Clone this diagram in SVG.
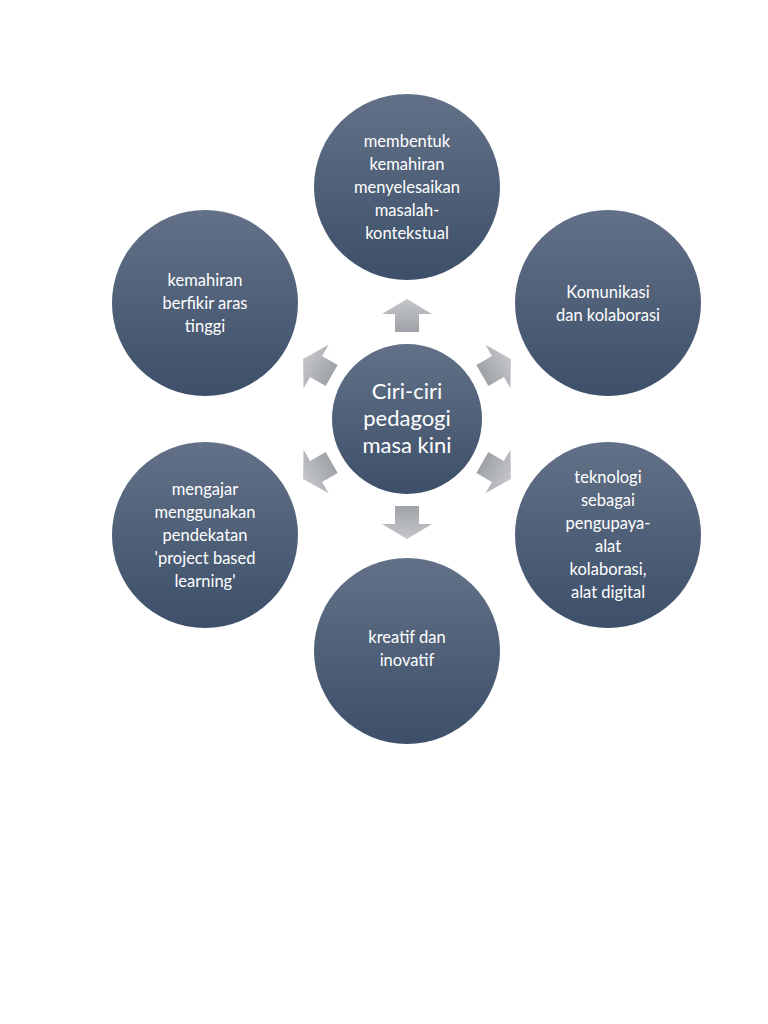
<svg xmlns="http://www.w3.org/2000/svg" width="768" height="1024" viewBox="0 0 768 1024">
<defs>
<linearGradient id="cg" x1="0" y1="0" x2="0" y2="1"><stop offset="0" stop-color="#627187"/><stop offset="1" stop-color="#3d4f69"/></linearGradient>
<linearGradient id="ag" x1="0" y1="0" x2="0" y2="1"><stop offset="0" stop-color="#c4c6ca"/><stop offset="1" stop-color="#9fa2a7"/></linearGradient>
<polygon id="arr" points="0,-17 25,-2 12,-2 12,16 -12,16 -12,-2 -25,-2" fill="url(#ag)"/>
</defs>
<style>
circle{fill:url(#cg)}
text{font-family:Lato,"Open Sans",sans-serif;fill:#fff;text-anchor:middle;font-size:16.5px}
.c{font-size:22px}
</style>
<rect width="768" height="1024" fill="#fff"/>
<g id="connectors">
<use href="#arr" transform="translate(407,419) rotate(0) translate(0,-103)"/>
<use href="#arr" transform="translate(407,419) rotate(60) translate(0,-103)"/>
<use href="#arr" transform="translate(407,419) rotate(120) translate(0,-103)"/>
<use href="#arr" transform="translate(407,419) rotate(180) translate(0,-103)"/>
<use href="#arr" transform="translate(407,419) rotate(240) translate(0,-103)"/>
<use href="#arr" transform="translate(407,419) rotate(300) translate(0,-103)"/>
</g>
<g id="center"><circle cx="407" cy="419" r="75"/>
<text class="c" x="407" y="399">Ciri-ciri</text><text class="c" x="407" y="426">pedagogi</text><text class="c" x="407" y="453">masa kini</text></g>
<g id="n1"><circle cx="407" cy="187" r="93"/>
<text x="407" y="147">membentuk</text><text x="407" y="170">kemahiran</text><text x="407" y="193">menyelesaikan</text><text x="407" y="216">masalah-</text><text x="407" y="239">kontekstual</text></g>
<g id="n2"><circle cx="608" cy="303" r="93"/>
<text x="608" y="298">Komunikasi</text><text x="608" y="321">dan kolaborasi</text></g>
<g id="n3"><circle cx="608" cy="535" r="93"/>
<text x="608" y="483">teknologi</text><text x="608" y="506">sebagai</text><text x="608" y="529">pengupaya-</text><text x="608" y="552">alat</text><text x="608" y="575">kolaborasi,</text><text x="608" y="598">alat digital</text></g>
<g id="n4"><circle cx="407" cy="651" r="93"/>
<text x="407" y="643">kreatif dan</text><text x="407" y="666">inovatif</text></g>
<g id="n5"><circle cx="205" cy="535" r="93"/>
<text x="205" y="495">mengajar</text><text x="205" y="518">menggunakan</text><text x="205" y="541">pendekatan</text><text x="205" y="564">'project based</text><text x="205" y="587">learning'</text></g>
<g id="n6"><circle cx="205" cy="303" r="93"/>
<text x="205" y="286">kemahiran</text><text x="205" y="309">berfikir aras</text><text x="205" y="332">tinggi</text></g>
</svg>
